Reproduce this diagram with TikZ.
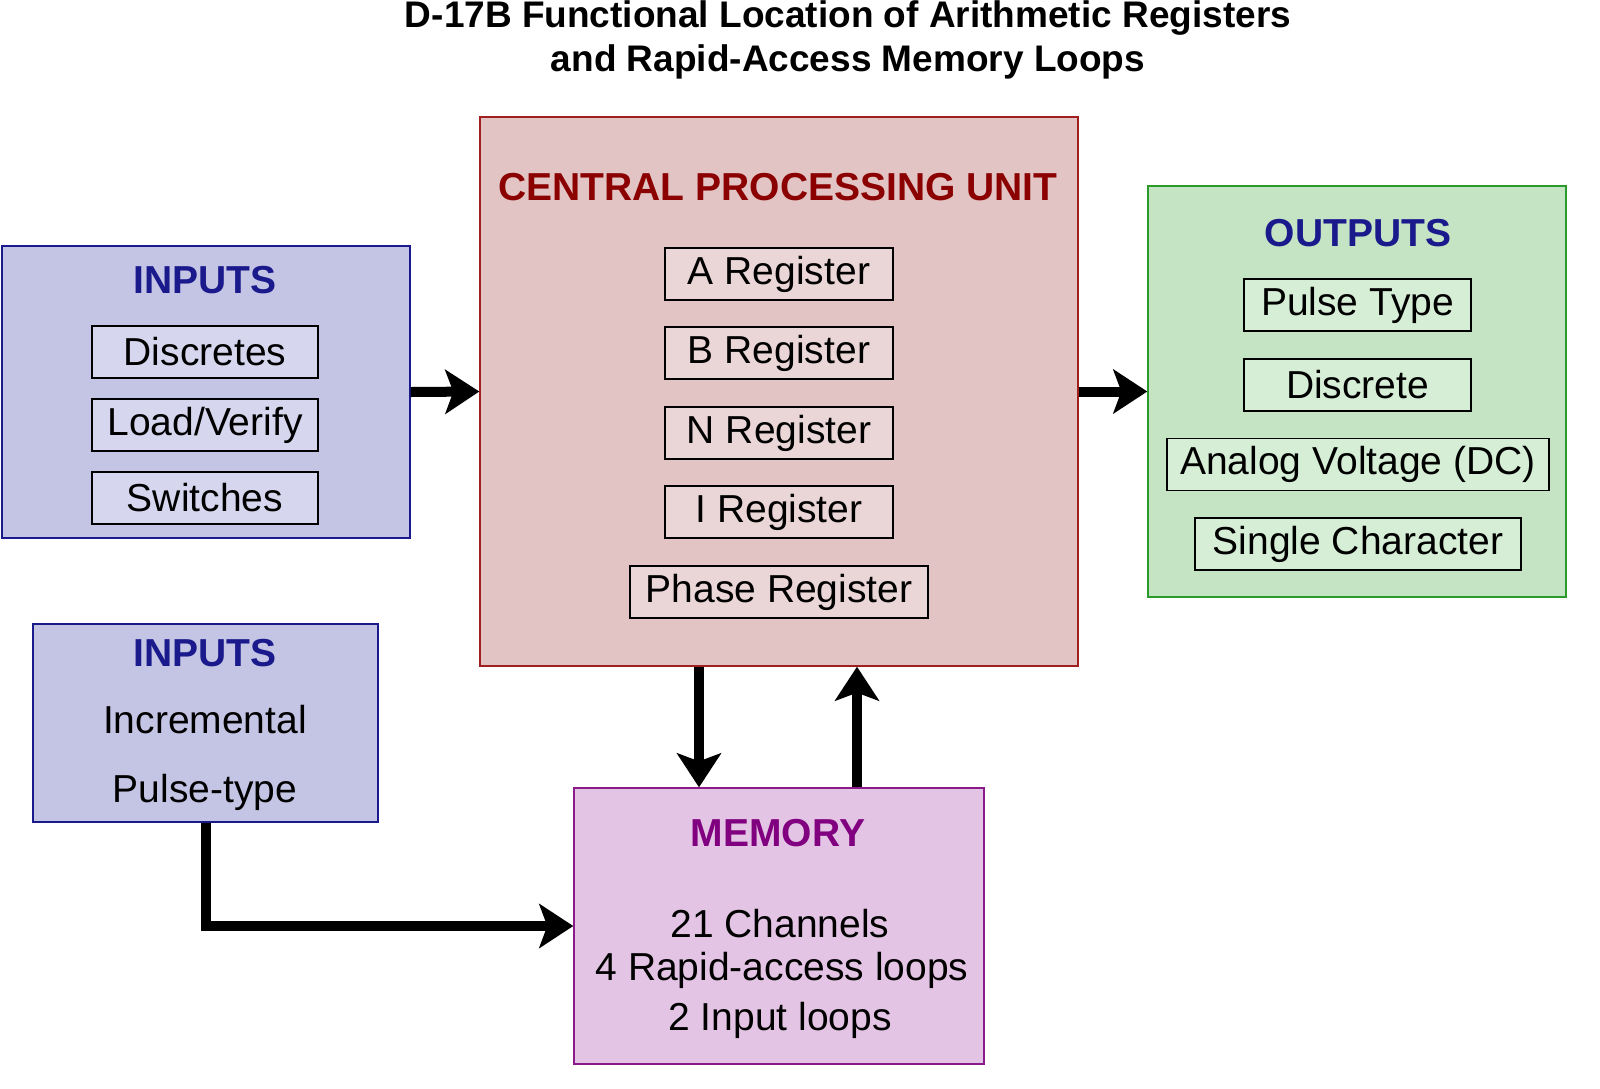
\documentclass[tikz,border=0pt]{standalone}
\usepackage{fontspec}
\setmainfont{Liberation Sans}
\usetikzlibrary{arrows.meta}
\definecolor{inF}{HTML}{C4C4E4}\definecolor{inB}{HTML}{1A1A8C}\definecolor{inS}{HTML}{D6D6EE}
\definecolor{cpF}{HTML}{E2C4C4}\definecolor{cpB}{HTML}{A02020}\definecolor{cpS}{HTML}{EAD6D6}\definecolor{cpT}{HTML}{8B0000}
\definecolor{ouF}{HTML}{C4E4C4}\definecolor{ouB}{HTML}{2A9A2A}\definecolor{ouS}{HTML}{D6EED6}
\definecolor{meF}{HTML}{E4C4E4}\definecolor{meB}{HTML}{8B1A8B}\definecolor{meT}{HTML}{800080}
\begin{document}
\begin{tikzpicture}[x=0.5pt,y=-0.5pt,
  box/.style={draw,line width=0.7pt,inner sep=0pt},
  sub/.style={draw=black,line width=0.7pt,inner sep=0pt,font=\fontsize{19.5}{22}\selectfont},
  ttl/.style={font=\bfseries\fontsize{19.5}{22}\selectfont},
  txt/.style={font=\fontsize{19.5}{22}\selectfont},
  arr/.style={line width=5pt,-{Stealth[length=17pt,width=22pt,inset=4pt]}}]
\useasboundingbox (0,0) rectangle (1600,1088);
\node[align=center,font=\bfseries\fontsize{18.5}{22}\selectfont] (title) at (848,40) {D-17B Functional Location of Arithmetic Registers\\and Rapid-Access Memory Loops};
% inputs 1
\node[box,draw=inB,fill=inF,minimum width=204pt,minimum height=146pt] (in1) at (206,392) {};
\node[ttl,text=inB] (in1t) at (205,280) {INPUTS};
\foreach \n/\y/\t in {d/352/Discretes,l/425/{Load/Verify},s/498/Switches}
  \node[sub,fill=inS,minimum width=113pt,minimum height=26pt] (\n) at (205,\y) {\t};
% inputs 2
\node[box,draw=inB,fill=inF,minimum width=172.5pt,minimum height=99pt] (in2) at (205.5,723) {};
\node[ttl,text=inB] (in2t) at (205,653) {INPUTS};
\node[txt] (inc) at (205,720) {Incremental};
\node[txt] (pt) at (205,792) {Pulse-type};
% cpu
\node[box,draw=cpB,fill=cpF,minimum width=299pt,minimum height=274.5pt] (cpu) at (779,391.5) {};
\node[ttl,text=cpT] (cput) at (778,187) {CENTRAL PROCESSING UNIT};
\foreach \n/\y/\t in {ra/274/A Register,rb/353/B Register,rn/433/N Register,ri/512/I Register}
  \node[sub,fill=cpS,minimum width=114pt,minimum height=26pt] (\n) at (779,\y) {\t};
\node[sub,fill=cpS,minimum width=149pt,minimum height=26pt] (rp) at (779,592) {Phase Register};
% outputs
\node[box,draw=ouB,fill=ouF,minimum width=209pt,minimum height=205.5pt] (out) at (1357,391.5) {};
\node[ttl,text=inB] (outt) at (1358,233) {OUTPUTS};
\node[sub,fill=ouS,minimum width=113.5pt,minimum height=26pt] (o1) at (1357.5,305) {Pulse Type};
\node[sub,fill=ouS,minimum width=113.5pt,minimum height=26pt] (o2) at (1357.5,385) {Discrete};
\node[sub,fill=ouS,minimum width=191pt,minimum height=26pt] (o3) at (1358,464.5) {Analog Voltage (DC)};
\node[sub,fill=ouS,minimum width=163pt,minimum height=26pt] (o4) at (1358,544) {Single Character};
% memory
\node[box,draw=meB,fill=meF,minimum width=205pt,minimum height=138pt] (mem) at (779,926) {};
\node[ttl,text=meT] (memt) at (778,833) {MEMORY};
\node[txt] (m1) at (780,924) {21 Channels};
\node[txt] (m2) at (782,970) {4 Rapid-access loops};
\node[txt] (m3) at (780,1020) {2 Input loops};
% arrows
\draw[arr] (in1.east) -- (cpu.west);
\draw[arr] (cpu.east |- out.west) -- (out.west);
\draw[arr] ([xshift=-40pt]cpu.south) -- ([xshift=-40pt]mem.north);
\draw[arr] ([xshift=39pt]mem.north) -- ([xshift=39pt]cpu.south);
\draw[arr] (in2.south) |- (mem.west);
\end{tikzpicture}
\end{document}
